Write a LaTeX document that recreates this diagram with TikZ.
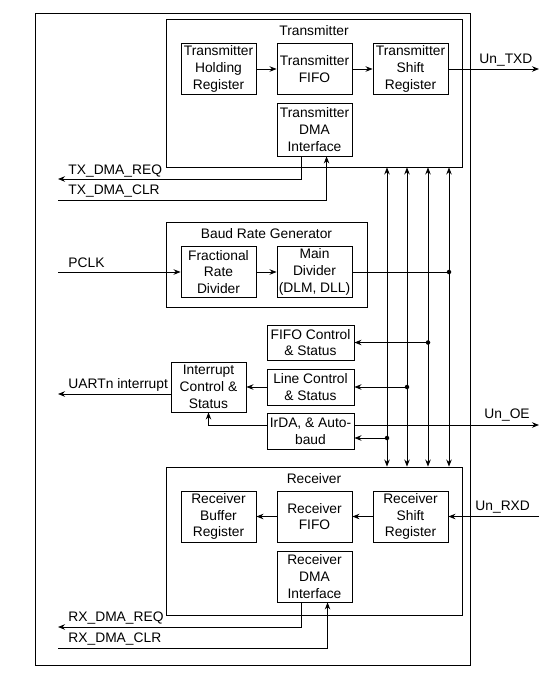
\documentclass[tikz,border=0pt]{standalone}
\usepackage{fontspec}
\setmainfont{Liberation Sans}
\usetikzlibrary{arrows.meta}
\begin{document}
\begin{tikzpicture}[x=1pt,y=-1pt, line width=0.9pt,
  txt/.style={font=\fontsize{13.8}{16.7}\selectfont},
  blk/.style={txt, draw, minimum width=75pt, minimum height=51pt, align=center, inner sep=0pt},
  cbox/.style={draw, inner sep=0pt},
  lbl/.style={txt, anchor=west, inner sep=0pt},
  ttl/.style={txt, inner sep=0pt},
  arr/.style={-{Stealth[length=7pt,width=5.5pt]}},
  barr/.style={{Stealth[length=7pt,width=5.5pt]}-{Stealth[length=7pt,width=5.5pt]}},
  dot/.style={circle, fill, inner sep=0pt, minimum size=4.5pt}]
\useasboundingbox (0,0) rectangle (555,673);

% containers
\node[cbox, minimum width=435pt, minimum height=652pt] (outer) at (252.5,339) {};
\node[cbox, minimum width=296pt, minimum height=148pt] (txbox) at (314,93) {};
\node[cbox, minimum width=296pt, minimum height=148pt] (rxbox) at (314,541) {};
\node[cbox, minimum width=201pt, minimum height=85pt] (baud) at (266.5,264.5) {};

% titles
\node[ttl] (txttl) at (314,31) {Transmitter};
\node[ttl] (rxttl) at (314,479) {Receiver};
\node[ttl] (baudttl) at (266.5,234) {Baud Rate Generator};

% transmitter blocks
\node[blk] (thr) at (218.5,69) {Transmitter\\Holding\\Register};
\node[blk] (tfifo) at (314.5,69) {Transmitter\\FIFO};
\node[blk] (tsr) at (410.5,69) {Transmitter\\Shift\\Register};
\node[blk, minimum height=53pt] (tdma) at (314.5,129.5) {Transmitter\\DMA\\Interface};

% baud blocks
\node[blk] (frd) at (218.5,272) {Fractional\\Rate\\Divider};
\node[blk] (md) at (314.5,272) {Main\\Divider\\(DLM, DLL)};

% control blocks
\node[blk, minimum width=87pt, minimum height=35pt] (fifoc) at (310.5,342.5) {FIFO Control\\\& Status};
\node[blk, minimum width=87pt, minimum height=36pt] (linec) at (310.5,387) {Line Control\\\& Status};
\node[blk, minimum width=87pt, minimum height=36pt] (irda) at (310.5,431) {IrDA, \& Auto-\\baud};
\node[blk, minimum width=75pt, minimum height=50pt] (intr) at (208.5,387) {Interrupt\\Control \&\\Status};

% receiver blocks
\node[blk] (rbr) at (218.5,516.5) {Receiver\\Buffer\\Register};
\node[blk] (rfifo) at (314.5,516.5) {Receiver\\FIFO};
\node[blk] (rsr) at (410.5,516.5) {Receiver\\Shift\\Register};
\node[blk] (rdma) at (314.5,576.5) {Receiver\\DMA\\Interface};

% external labels
\node[lbl] (ltxd) at (479,60) {Un\_TXD};
\node[lbl] (loe) at (484,415) {Un\_OE};
\node[lbl] (lrxd) at (475,507) {Un\_RXD};
\node[lbl] (lpclk) at (68,263) {PCLK};
\node[lbl] (luart) at (68,385) {UARTn interrupt};
\node[lbl] (ltxreq) at (68,171) {TX\_DMA\_REQ};
\node[lbl] (ltxclr) at (68,191) {TX\_DMA\_CLR};
\node[lbl] (lrxreq) at (68,618) {RX\_DMA\_REQ};
\node[lbl] (lrxclr) at (68,639) {RX\_DMA\_CLR};

% free ends
\coordinate (txd) at (539,69);
\coordinate (oe) at (539,425);
\coordinate (rxd) at (539,516.5);
\coordinate (pclk) at (58,272);
\coordinate (uart) at (58,394);
\coordinate (txreq) at (58,179);
\coordinate (txclr) at (58,200);
\coordinate (rxreq) at (58,627);
\coordinate (rxclr) at (58,648);

% transmitter path
\draw[arr] (thr) -- (tfifo);
\draw[arr] (tfifo) -- (tsr);
\draw[arr] (tsr.east) -- (txd);
\draw[arr] ([xshift=25pt]tdma.south west) |- (txreq);
\draw[arr] (txclr) -| ([xshift=50pt]tdma.south west);

% baud path
\draw[arr] (pclk) -- (frd.west);
\draw[arr] (frd) -- (md);
\draw (md.east) -- (md.east -| 449,0) node[dot] (d1) {};

% bus
\foreach \bx in {387,407,428,449}
  \draw[barr] (txbox.south -| \bx,0) -- (rxbox.north -| \bx,0);

% control connections
\draw[arr] (fifoc.east -| 428,0) node[dot] (d2) {} -- (fifoc.east);
\draw[arr] (linec.east -| 407,0) node[dot] (d3) {} -- (linec.east);
\draw[arr] ([yshift=-7pt]irda.east -| 387,0) node[dot] (d4) {} -- ([yshift=-7pt]irda.east);
\draw[arr] ([yshift=6pt]irda.east) -- (oe);
\draw[arr] ([yshift=6pt]irda.west) -| (intr.south);
\draw[arr] (linec) -- (intr);
\draw[arr] (intr.west |- uart) -- (uart);

% receiver path
\draw[arr] (rxd) -- (rsr.east);
\draw[arr] (rsr) -- (rfifo);
\draw[arr] (rfifo) -- (rbr);
\draw[arr] ([xshift=25pt]rdma.south west) |- (rxreq);
\draw[arr] (rxclr) -| ([xshift=51pt]rdma.south west);
\end{tikzpicture}
\end{document}
